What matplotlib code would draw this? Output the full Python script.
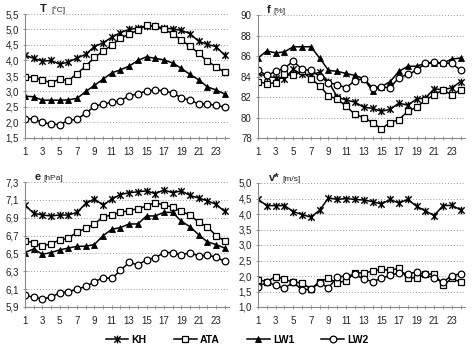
import matplotlib

matplotlib.use("Agg")
import matplotlib.pyplot as plt  # noqa: E402
from matplotlib.path import Path  # noqa: E402
from matplotlib.ticker import FuncFormatter, MultipleLocator  # noqa: E402

plt.rcParams["font.family"] = ["Liberation Sans", "DejaVu Sans"]

hours = list(range(1, 25))
hour_ticks = list(range(1, 24, 2))
series_names = ["KH", "ATA", "LW1", "LW2"]

# T [°C]
t_kh = [4.17, 4.07, 3.98, 4.00, 3.88, 3.95, 4.08, 4.20, 4.45, 4.57, 4.75, 4.90,
        5.00, 5.05, 5.12, 5.10, 5.05, 5.02, 4.97, 4.87, 4.62, 4.52, 4.45, 4.17]
t_ata = [3.48, 3.45, 3.37, 3.28, 3.40, 3.35, 3.58, 3.82, 4.10, 4.30, 4.50, 4.72,
         4.85, 4.98, 5.13, 5.10, 5.00, 4.87, 4.65, 4.47, 4.23, 3.98, 3.80, 3.62]
t_lw1 = [2.85, 2.83, 2.72, 2.72, 2.72, 2.73, 2.78, 3.00, 3.20, 3.40, 3.60, 3.70,
         3.82, 4.00, 4.12, 4.07, 4.02, 3.92, 3.75, 3.55, 3.38, 3.15, 3.05, 2.92]
t_lw2 = [2.12, 2.12, 2.00, 1.95, 1.93, 2.07, 2.10, 2.30, 2.52, 2.60, 2.65, 2.70,
         2.87, 2.92, 3.02, 3.05, 3.02, 2.95, 2.80, 2.72, 2.60, 2.60, 2.55, 2.50]
t_ticks = [1.5, 2.0, 2.5, 3.0, 3.5, 4.0, 4.5, 5.0, 5.5]

# f [%]
f_kh = [84.3, 84.0, 83.9, 83.8, 84.7, 84.2, 84.2, 84.4, 83.5, 82.0, 81.7, 81.5,
        81.0, 80.9, 80.6, 80.8, 81.4, 81.2, 81.8, 81.9, 82.8, 82.7, 82.9, 83.5]
f_ata = [83.5, 83.3, 83.4, 84.2, 84.1, 84.5, 83.8, 83.1, 82.1, 81.8, 81.1, 80.3,
         80.0, 79.5, 78.9, 79.5, 79.8, 80.6, 81.0, 81.7, 82.2, 82.7, 82.2, 82.7]
f_lw1 = [85.8, 86.5, 86.3, 86.4, 86.9, 86.9, 86.9, 85.8, 84.6, 84.5, 84.3, 84.1,
         83.8, 82.6, 83.0, 83.5, 84.5, 85.0, 85.0, 85.3, 85.3, 85.3, 85.7, 85.8]
f_lw2 = [84.6, 84.1, 84.5, 84.8, 85.5, 84.7, 84.6, 84.0, 83.4, 83.2, 82.9, 83.6,
         83.8, 82.9, 83.0, 82.9, 83.9, 84.2, 84.6, 85.3, 85.4, 85.3, 85.3, 84.6]
f_ticks = [78, 80, 82, 84, 86, 88, 90]

# e [hPa]
e_kh = [7.04, 6.95, 6.93, 6.92, 6.93, 6.93, 6.96, 7.06, 7.11, 7.04, 7.11, 7.16,
        7.18, 7.19, 7.20, 7.17, 7.21, 7.18, 7.20, 7.15, 7.12, 7.09, 7.05, 6.97]
e_ata = [6.64, 6.62, 6.58, 6.61, 6.65, 6.67, 6.74, 6.78, 6.83, 6.91, 6.93, 6.96,
         6.98, 7.00, 7.03, 7.07, 7.04, 7.02, 6.97, 6.93, 6.85, 6.80, 6.70, 6.64]
e_lw1 = [6.51, 6.55, 6.49, 6.51, 6.54, 6.56, 6.58, 6.58, 6.60, 6.70, 6.77, 6.79,
         6.83, 6.83, 6.92, 6.92, 6.96, 6.96, 6.86, 6.80, 6.71, 6.63, 6.60, 6.56]
e_lw2 = [6.03, 6.01, 5.99, 6.01, 6.06, 6.07, 6.10, 6.13, 6.18, 6.23, 6.22, 6.31,
         6.40, 6.37, 6.43, 6.45, 6.51, 6.51, 6.48, 6.51, 6.47, 6.48, 6.46, 6.41]
e_ticks = [5.9, 6.1, 6.3, 6.5, 6.7, 6.9, 7.1, 7.3]

# v* [m/s] (no LW1 series)
v_kh = [4.47, 4.27, 4.27, 4.27, 4.08, 3.98, 3.90, 4.12, 4.52, 4.47, 4.50, 4.47,
        4.45, 4.40, 4.32, 4.47, 4.35, 4.47, 4.25, 4.10, 3.95, 4.27, 4.28, 4.13]
v_ata = [1.88, 1.82, 1.98, 1.90, 1.80, 1.78, 1.58, 1.82, 1.92, 1.78, 1.85, 2.10,
         2.10, 2.15, 2.22, 2.18, 2.25, 1.92, 1.95, 2.05, 2.07, 1.70, 1.92, 1.80]
v_lw2 = [1.65, 1.80, 1.70, 1.60, 1.80, 1.55, 1.58, 1.78, 1.62, 1.97, 2.00, 2.05,
         1.90, 1.82, 1.92, 2.02, 2.10, 2.08, 2.12, 2.05, 1.92, 1.82, 2.00, 2.08]
v_ticks = [1.0, 1.5, 2.0, 2.5, 3.0, 3.5, 4.0, 4.5, 5.0]

# Excel-like "star" marker: an X with a vertical stroke through it
star = Path(
    [(-1, -1), (1, 1), (-1, 1), (1, -1), (0, -1.2), (0, 1.2)],
    [Path.MOVETO, Path.LINETO, Path.MOVETO, Path.LINETO, Path.MOVETO, Path.LINETO],
)

styles = {
    "KH": dict(marker=star, ms=5.5, mfc="none", mec="black", mew=1.0),
    "ATA": dict(marker="s", ms=4.8, mfc="white", mec="black", mew=0.9),
    "LW1": dict(marker="^", ms=5, mfc="black", mec="black", mew=0.6),
    "LW2": dict(marker="o", ms=4.8, mfc="white", mec="black", mew=0.9),
}

W, H = 474, 351


def box(left, top, right, bottom):
    return [left / W, 1 - bottom / H, (right - left) / W, (bottom - top) / H]


def comma(dec):
    return FuncFormatter(lambda v, _: f"{v:.{dec}f}".replace(".", ","))


panels = [
    dict(rect=box(25, 14, 229, 138), data={"KH": t_kh, "ATA": t_ata, "LW1": t_lw1, "LW2": t_lw2},
         ticks=t_ticks, dec=1, sym="T", unit="[°C]", lx=0.04, ux=11),
    dict(rect=box(258, 15, 465, 138), data={"KH": f_kh, "ATA": f_ata, "LW1": f_lw1, "LW2": f_lw2},
         ticks=f_ticks, dec=0, sym="f", unit="[%]", lx=0.005, ux=7),
    dict(rect=box(25, 182, 229, 307), data={"KH": e_kh, "ATA": e_ata, "LW1": e_lw1, "LW2": e_lw2},
         ticks=e_ticks, dec=1, sym="e", unit="[hPa]", lx=0.01, ux=9),
    dict(rect=box(258, 183, 465, 307), data={"KH": v_kh, "ATA": v_ata, "LW2": v_lw2},
         ticks=v_ticks, dec=1, sym="v*", unit="[m/s]", lx=0.02, ux=13),
]

fig = plt.figure(figsize=(W / 100, H / 100), dpi=100)

for p in panels:
    ax = fig.add_axes(p["rect"])
    for name, vals in p["data"].items():
        ax.plot(hours, vals, color="black", lw=1.1, label=name, **styles[name])
    ax.set_xlim(1, 24.5)
    ax.set_ylim(p["ticks"][0], p["ticks"][-1])
    ax.set_xticks(hour_ticks)
    ax.xaxis.set_minor_locator(MultipleLocator(1))
    ax.set_yticks(p["ticks"])
    ax.yaxis.set_major_formatter(comma(p["dec"]))
    ax.grid(axis="y", ls=(0, (1, 2)), color="#999999", lw=0.7)
    for side in ("top", "right"):
        ax.spines[side].set_visible(False)
    for side in ("left", "bottom"):
        ax.spines[side].set_color("#888888")
        ax.spines[side].set_linewidth(0.8)
    ax.tick_params(which="both", direction="inout", color="#888888", labelsize=7,
                   labelcolor="#222222", length=3, width=0.6, pad=3)
    ax.tick_params(which="minor", length=2.5)
    ax.tick_params(axis="x", pad=5)
    ax.text(p["lx"] + 0.035, 1.0, p["sym"], transform=ax.transAxes, fontsize=8,
            fontweight="bold", va="bottom", ha="left", color="#222222")
    ax.annotate(p["unit"], xy=(p["lx"] + 0.035, 1.0), xycoords="axes fraction",
                xytext=(p["ux"] * 0.72, 0), textcoords="offset points", fontsize=6,
                va="bottom", ha="left", color="#222222")
    if p["sym"] == "T":
        handles, labels = ax.get_legend_handles_labels()

fig.legend(handles, labels, loc="center", bbox_to_anchor=(237 / W, 1 - 340 / H), ncol=4,
           frameon=False, prop={"weight": "bold", "size": 7.5},
           handlelength=2.2, columnspacing=2.6, handletextpad=0.3)

fig.savefig("out.png", dpi=100)
